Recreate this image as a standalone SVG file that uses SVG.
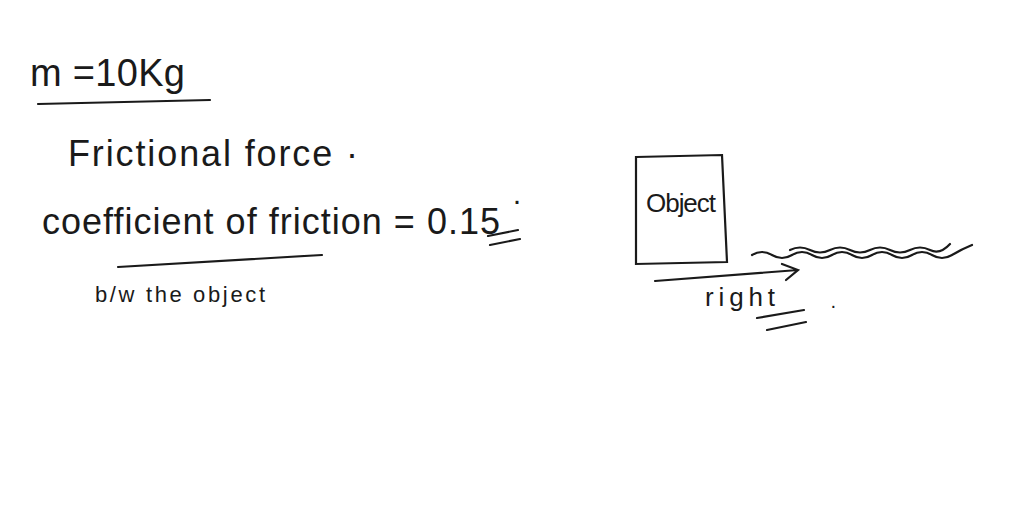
<svg xmlns="http://www.w3.org/2000/svg" width="1024" height="512" viewBox="0 0 1024 512">
<style>
.t{font-family:"Liberation Sans",sans-serif;fill:#1a1a1a}
.s{stroke:#1a1a1a;stroke-width:2.2;fill:none;stroke-linecap:round}
</style>
<rect width="1024" height="512" fill="#fff"/>
<text class="t" x="30" y="86" font-size="38" textLength="155">m =10Kg</text>
<path class="s" d="M38 104 L210 100"/>
<text class="t" x="68" y="166" font-size="36" textLength="290">Frictional force ·</text>
<text class="t" x="42" y="234" font-size="36" textLength="458">coefficient of friction = 0.15</text>
<text class="t" x="512" y="210" font-size="30">·</text>
<path class="s" d="M488 236 L518 230 M490 245 L520 239"/>
<path class="s" d="M118 267 L322 255"/>
<text class="t" x="95" y="302" font-size="22" textLength="170">b/w the object</text>
<g id="object">
<path class="s" d="M636 157 L722 155 L727 262 L636 264 Z"/>
<text class="t" x="646" y="212" font-size="26" textLength="70">Object</text>
</g>
<path class="s" d="M752 255 q10 -6 20 0 t20 0 t20 0 t20 0 t20 0 t20 0 t20 0 t20 0 t20 0 t20 0 t20 -10"/>
<path class="s" d="M790 250 q10 -5 20 0 t20 0 t20 0 t20 0 t20 0 t20 0 t20 0 t20 -6"/>
<g id="connectors">
<path class="s" d="M655 281 L798 270 M782 264 L798 270 L786 280"/>
</g>
<text class="t" x="705" y="306" font-size="26" textLength="70">right</text>
<path class="s" d="M757 318 L804 310 M767 330 L806 322"/>
<text class="t" x="830" y="312" font-size="20">·</text>
</svg>
